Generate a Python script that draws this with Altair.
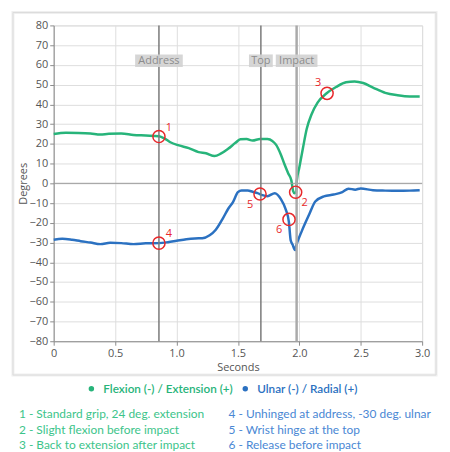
import altair as alt
import pandas as pd

# ---------------- data ----------------
series_names = ["Flexion (-) / Extension (+)", "Ulnar (-) / Radial (+)"]

green_t = [0.00, 0.10, 0.20, 0.30, 0.38, 0.45, 0.55, 0.65, 0.75, 0.857, 0.90, 0.95,
           1.02, 1.10, 1.18, 1.24, 1.31, 1.36, 1.42, 1.48, 1.52, 1.57, 1.62, 1.68,
           1.74, 1.78, 1.81, 1.85, 1.88, 1.91, 1.935, 1.95, 1.96, 1.975, 1.98, 2.00,
           2.03, 2.06, 2.10, 2.15, 2.22, 2.30, 2.38, 2.45, 2.52, 2.60, 2.70, 2.80,
           2.90, 2.98]
green_v = [25.0, 25.6, 25.5, 25.2, 24.7, 25.1, 25.2, 24.5, 24.2, 23.8, 22.8, 20.8,
           19.2, 17.8, 15.8, 15.2, 13.8, 15.0, 17.5, 20.5, 22.3, 22.4, 21.7, 22.5,
           22.4, 21.5, 19.6, 14.5, 9.5, 5.0, 1.5, -4.0, -5.0, -4.5, 1.5, 8.0,
           18.0, 27.5, 35.0, 41.0, 45.5, 48.8, 51.2, 51.6, 50.8, 48.5, 45.8, 44.6,
           44.0, 44.0]

blue_t = [0.00, 0.07, 0.15, 0.22, 0.30, 0.38, 0.46, 0.55, 0.65, 0.75, 0.857, 0.93,
          1.00, 1.08, 1.15, 1.21, 1.27, 1.32, 1.38, 1.42, 1.46, 1.50, 1.53, 1.58,
          1.62, 1.66, 1.70, 1.74, 1.80, 1.85, 1.89, 1.915, 1.93, 1.945, 1.965, 1.975,
          2.02, 2.08, 2.13, 2.20, 2.28, 2.35, 2.40, 2.455, 2.50, 2.60, 2.70, 2.80,
          2.90, 2.98]
blue_v = [-28.6, -28.1, -28.6, -29.3, -30.0, -30.8, -30.1, -30.3, -30.8, -30.4, -30.3, -29.8,
          -29.1, -28.3, -27.9, -27.8, -26.3, -23.5, -17.5, -13.0, -9.5, -4.5, -3.6, -3.6,
          -4.3, -5.0, -6.0, -6.5, -5.0, -8.0, -13.3, -19.5, -29.0, -31.0, -33.8, -31.5,
          -24.2, -15.8, -9.2, -6.6, -5.7, -4.5, -2.7, -3.2, -2.6, -3.5, -3.7, -3.8,
          -3.7, -3.5]

event_names = ["Address", "Top", "Impact"]
event_t = [0.857, 1.687, 1.978]
event_kind = ["phase", "phase", "impact"]

marker_ids = ["1", "2", "3", "4", "5", "6"]
marker_t = [0.857, 1.97, 2.226, 0.857, 1.68, 1.916]
marker_v = [23.7, -4.5, 45.6, -30.3, -5.4, -18.3]
marker_side = ["ur", "lr", "ul", "ur", "ll", "ll"]

note_texts = [
    "1 - Standard grip, 24 deg. extension",
    "2 - Slight flexion before impact",
    "3 - Back to extension after impact",
    "4 - Unhinged at address, -30 deg. ulnar",
    "5 - Wrist hinge at the top",
    "6 - Release before impact",
]
note_series = [0, 0, 0, 1, 1, 1]

x_ticks = [0, 0.5, 1.0, 1.5, 2.0, 2.5, 3.0]
y_ticks = [80, 70, 60, 50, 40, 30, 20, 10, 0, -10, -20, -30, -40, -50, -60, -70, -80]

# ---------------- styles ----------------
GREEN = "#27b47a"
BLUE = "#2b71c1"
NOTE_GREEN = "#3cc48a"
NOTE_BLUE = "#4a87d4"
RED = "#e8282b"
AXFONT = "Open Sans"
TXTFONT = "Lato"
W, H = 371, 318

lines_df = pd.DataFrame(
    {"t": green_t + blue_t,
     "v": green_v + blue_v,
     "series": [series_names[0]] * len(green_t) + [series_names[1]] * len(blue_t)}
)
events_df = pd.DataFrame({"name": event_names, "t": event_t, "kind": event_kind})
markers_df = pd.DataFrame({"id": marker_ids, "t": marker_t, "v": marker_v, "side": marker_side})
frame_df = pd.DataFrame({"k": [0]})
legend_df = pd.DataFrame({"name": series_names, "i": [0, 1]})
notes_df = pd.DataFrame({
    "text": note_texts,
    "col": note_series,
    "row": [i % 3 for i in range(len(note_texts))],
})

xscale = alt.Scale(domain=[0, 3], nice=False)
yscale = alt.Scale(domain=[-80, 80], nice=False)

x_axis = alt.Axis(values=x_ticks, title="Seconds", titlePadding=3,
                  labelExpr="datum.value == 0 ? '0' : format(datum.value, '.1f')")
y_axis = alt.Axis(values=y_ticks, title="Degrees", tickCount=17)

frame_shadow = alt.Chart(frame_df).mark_rect(
    fill="transparent", stroke="#efefef", strokeWidth=3
).encode(x=alt.value(-41), x2=alt.value(385), y=alt.value(-13), y2=alt.value(352))
frame = alt.Chart(frame_df).mark_rect(
    fill="transparent", stroke="#dcdcdc", strokeWidth=1
).encode(x=alt.value(-41), x2=alt.value(385), y=alt.value(-13), y2=alt.value(352))

color_scale = alt.Scale(domain=series_names, range=[GREEN, BLUE])

lines = alt.Chart(lines_df).mark_line(strokeWidth=2.5, interpolate="monotone").encode(
    x=alt.X("t:Q", scale=xscale, axis=x_axis),
    y=alt.Y("v:Q", scale=yscale, axis=y_axis),
    color=alt.Color("series:N", scale=color_scale, legend=None),
)

zero_rule = alt.Chart(frame_df).transform_calculate(z="0").mark_rule(
    color="#9a9a9a", strokeWidth=1
).encode(y=alt.Y("z:Q"))

phase_rules = alt.Chart(events_df).transform_filter("datum.kind == 'phase'").mark_rule(
    color="#7a7a7a", strokeWidth=1.5
).encode(x=alt.X("t:Q"))
impact_rules = alt.Chart(events_df).transform_filter("datum.kind == 'impact'").mark_rule(
    color="#aaaaaa", strokeWidth=2.5
).encode(x=alt.X("t:Q"))

label_boxes = alt.Chart(events_df).transform_calculate(
    x1="datum.t - (6 * length(datum.name) + 6) / 2 / 123.7",
    x2="datum.t + (6 * length(datum.name) + 6) / 2 / 123.7",
    y1="58.9",
    y2="65.3",
).mark_rect(fill="#d2d2d2", opacity=0.9).encode(
    x=alt.X("x1:Q"), x2="x2:Q", y=alt.Y("y1:Q"), y2="y2:Q",
)
label_texts = alt.Chart(events_df).transform_calculate(ly="62.1").mark_text(
    font=AXFONT, fontSize=11, color="#8c8c8c", baseline="middle"
).encode(x=alt.X("t:Q"), y=alt.Y("ly:Q"), text="name:N")

circles = alt.Chart(markers_df).mark_point(
    shape="circle", filled=False, size=150, stroke=RED, strokeWidth=1.5, opacity=1
).encode(x=alt.X("t:Q"), y=alt.Y("v:Q"))

offsets = {"ur": (10, -9), "lr": (9, 11), "ul": (-9, -10), "ll": (-10, 11)}
num_layers = []
for side, (ddx, ddy) in offsets.items():
    num_layers.append(
        alt.Chart(markers_df).transform_filter(f"datum.side == '{side}'").mark_text(
            font=AXFONT, fontSize=11, color=RED, dx=ddx, dy=ddy
        ).encode(x=alt.X("t:Q"), y=alt.Y("v:Q"), text="id:N")
    )

# legend row and notes, placed below the plot through the same scales
legend_dots = alt.Chart(legend_df).transform_calculate(
    lx="0.307 + datum.i * 1.253", ly="-104.1"
).mark_point(shape="circle", filled=True, size=30, opacity=1).encode(
    x=alt.X("lx:Q"), y=alt.Y("ly:Q"),
    color=alt.Color("name:N", scale=color_scale, legend=None),
)
legend_text = alt.Chart(legend_df).transform_calculate(
    lx="0.307 + datum.i * 1.253", ly="-104.1"
).mark_text(
    font=TXTFONT, fontSize=11.8, fontWeight=600, align="left", baseline="middle", dx=12
).encode(
    x=alt.X("lx:Q"), y=alt.Y("ly:Q"),
    color=alt.Color("name:N", scale=color_scale, legend=None),
    text="name:N",
)
notes = alt.Chart(notes_df).transform_calculate(
    nx="-0.283 + datum.col * 1.706", ny="-117.0 - datum.row * 7.9",
    c="datum.col == 0 ? '" + NOTE_GREEN + "' : '" + NOTE_BLUE + "'",
).mark_text(
    font=TXTFONT, fontSize=12, align="left", baseline="middle"
).encode(
    x=alt.X("nx:Q"), y=alt.Y("ny:Q"),
    color=alt.Color("c:N", scale=None),
    text="text:N",
)

chart = alt.layer(
    lines, frame_shadow, frame, zero_rule, phase_rules, impact_rules,
    label_boxes, label_texts, circles, *num_layers,
    legend_dots, legend_text, notes,
).properties(
    width=W, height=H,
    padding={"left": 3, "top": 1, "right": 4, "bottom": 0},
).configure_view(stroke="transparent", strokeWidth=0).configure(
    background="white"
).configure_axis(
    labelOverlap=False, labelFlush=False, grid=True, gridColor="#dedede",
    domainColor="#8c8c8c", tickColor="#8c8c8c", tickSize=4, labelColor="#555",
    labelFont=AXFONT, labelFontSize=11, titleFont=AXFONT, titleFontSize=11,
    titleColor="#555", titleFontWeight="normal", titlePadding=1, labelPadding=2,
)

chart.save("out.html", embed_options={"renderer": "svg", "actions": False})
